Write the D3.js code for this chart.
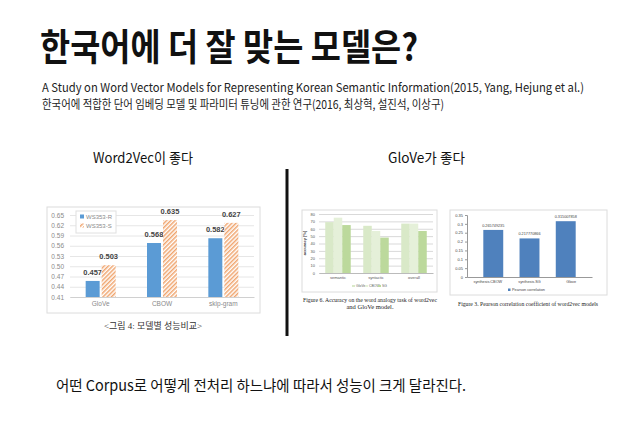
<!DOCTYPE html>
<html>
<head>
<meta charset="utf-8">
<script src="https://cdn.jsdelivr.net/npm/d3@7"></script>
<style>
  body { margin: 0; background: #fff; }
  svg { display: block; }
</style>
</head>
<body>
<script>
// slide text
var titleText = '한국어에 더 잘 맞는 모델은?';
var refLines = [
  'A Study on Word Vector Models for Representing Korean Semantic Information(2015, Yang, Hejung et al.)',
  '한국어에 적합한 단어 임베딩 모델 및 파라미터 튜닝에 관한 연구(2016, 최상혁, 설진석, 이상구)'
];
var headLeft = 'Word2Vec이 좋다';
var headRight = 'GloVe가 좋다';
var footText = '어떤 Corpus로 어떻게 전처리 하느냐에 따라서 성능이 크게 달라진다.';

// left chart: WS353 correlation per model
var modelCats = ['GloVe', 'CBOW', 'skip-gram'];
var wsSeries = ['WS353-R', 'WS353-S'];
var wsR = [0.457, 0.568, 0.582];
var wsS = [0.503, 0.635, 0.627];
var wsTicks = [0.41, 0.44, 0.47, 0.50, 0.53, 0.56, 0.59, 0.62, 0.65];

// middle chart: word analogy accuracy
var taskCats = ['semantic', 'syntactic', 'overall'];
var anaSeries = ['GloVe', 'CBOW', 'SG'];
var anaGlove = [69, 64, 67];
var anaCbow = [75, 57, 67];
var anaSg = [65, 48, 57];
var anaTicks = [0, 10, 20, 30, 40, 50, 60, 70, 80];

// right chart: pearson correlation
var pearCats = ['synthesis.CBOW', 'synthesis.SG', 'Glove'];
var pearVals = [0.265749235, 0.217770866, 0.315007858];
var pearTicks = [0, 0.05, 0.1, 0.15, 0.2, 0.25, 0.3, 0.35];

var W = 638, H = 442;
var kr = '"Noto Sans CJK KR", "Noto Sans", sans-serif';
var serif = '"Liberation Serif", "DejaVu Serif", "Noto Sans CJK KR", serif';
var sans = '"Liberation Sans", Arial, sans-serif';

var svg = d3.select('body').append('svg').attr('width', W).attr('height', H);

// title + references
svg.append('text').attr('x', 40).attr('y', 61)
  .attr('font-family', kr).attr('font-weight', 700).attr('font-size', 37)
  .attr('textLength', 378).attr('lengthAdjust', 'spacingAndGlyphs')
  .attr('fill', '#111').text(titleText);

svg.selectAll('.ref').data(refLines).enter().append('text')
  .attr('class', 'ref')
  .attr('x', 42).attr('y', function(d, i) { return 92 + i * 17; })
  .attr('font-family', kr).attr('font-size', 12)
  .attr('textLength', function(d, i) { return i == 0 ? 542 : 402; })
  .attr('lengthAdjust', 'spacingAndGlyphs')
  .attr('fill', '#222').text(function(d) { return d; });

svg.append('text').attr('x', 93).attr('y', 163)
  .attr('font-family', kr).attr('font-size', 14)
  .attr('textLength', 100).attr('lengthAdjust', 'spacingAndGlyphs')
  .attr('fill', '#111').text(headLeft);
svg.append('text').attr('x', 388).attr('y', 163)
  .attr('font-family', kr).attr('font-size', 14)
  .attr('textLength', 77).attr('lengthAdjust', 'spacingAndGlyphs')
  .attr('fill', '#111').text(headRight);

// divider
svg.append('line').attr('x1', 287).attr('x2', 287).attr('y1', 169).attr('y2', 336)
  .attr('stroke', '#111').attr('stroke-width', 3);

svg.append('text').attr('x', 56).attr('y', 391)
  .attr('font-family', kr).attr('font-size', 15)
  .attr('textLength', 410).attr('lengthAdjust', 'spacingAndGlyphs')
  .attr('fill', '#111').text(footText);

// hatch pattern for WS353-S
var defs = svg.append('defs');
var pat = defs.append('pattern').attr('id', 'hatch')
  .attr('patternUnits', 'userSpaceOnUse').attr('width', 3).attr('height', 3)
  .attr('patternTransform', 'rotate(45)');
pat.append('rect').attr('width', 3).attr('height', 3).attr('fill', '#fff');
pat.append('rect').attr('width', 1.5).attr('height', 3).attr('fill', '#f0a56f');

// ---------- left chart ----------
var g1 = svg.append('g');
g1.append('rect').attr('x', 47).attr('y', 207).attr('width', 213).attr('height', 106)
  .attr('fill', '#fff').attr('stroke', '#dcdcdc');

var x1 = d3.scaleBand().domain(modelCats).range([70, 254]);
var y1 = d3.scaleLinear().domain([0.41, 0.65]).range([297, 215]);

g1.append('g').attr('transform', 'translate(70,0)')
  .call(d3.axisLeft(y1).tickValues(wsTicks).tickSize(-184).tickFormat(d3.format('.2f')))
  .call(function(g) {
    g.select('.domain').remove();
    g.selectAll('.tick line').attr('stroke', '#e6e6e6');
    g.selectAll('.tick text').attr('x', -6).attr('fill', '#8a8a8a')
      .attr('font-family', sans).attr('font-size', 6.5);
  });

g1.append('g').attr('transform', 'translate(0,297)')
  .call(d3.axisBottom(x1).tickSize(0))
  .call(function(g) {
    g.select('.domain').attr('stroke', '#d0d0d0');
    g.selectAll('.tick text').attr('dy', 6).attr('fill', '#8a8a8a')
      .attr('font-family', sans).attr('font-size', 6.5);
  });

var wsData = [wsR, wsS];
wsData.forEach(function(vals, s) {
  g1.selectAll('.ws' + s).data(vals).enter().append('rect')
    .attr('class', 'ws' + s)
    .attr('x', function(d, i) { return x1(modelCats[i]) + x1.bandwidth() / 2 - 15 + s * 16; })
    .attr('y', function(d) { return y1(d); })
    .attr('width', 14)
    .attr('height', function(d) { return y1(0.41) - y1(d); })
    .attr('fill', s == 0 ? '#5b9bd5' : 'url(#hatch)');
  g1.selectAll('.wsl' + s).data(vals).enter().append('text')
    .attr('class', 'wsl' + s)
    .attr('x', function(d, i) { return x1(modelCats[i]) + x1.bandwidth() / 2 - 8 + s * 16; })
    .attr('y', function(d) { return y1(d) - 6; })
    .attr('text-anchor', 'middle').attr('font-family', sans).attr('font-weight', 700)
    .attr('font-size', 7.5).attr('fill', '#444')
    .text(function(d) { return d3.format('.3f')(d); });
});

var lg1 = g1.append('g');
lg1.append('rect').attr('x', 76).attr('y', 211).attr('width', 40).attr('height', 22)
  .attr('fill', '#fff').attr('stroke', '#e0e0e0');
wsSeries.forEach(function(name, i) {
  lg1.append('rect').attr('x', 80).attr('y', 214.5 + i * 9).attr('width', 4).attr('height', 4)
    .attr('fill', i == 0 ? '#5b9bd5' : 'url(#hatch)');
  lg1.append('text').attr('x', 86).attr('y', 218.5 + i * 9)
    .attr('font-family', sans).attr('font-size', 6).attr('fill', '#8a8a8a').text(name);
});

g1.append('text').attr('x', 153).attr('y', 329).attr('text-anchor', 'middle')
  .attr('font-family', serif).attr('font-size', 9).attr('fill', '#333')
  .attr('textLength', 98).attr('lengthAdjust', 'spacingAndGlyphs')
  .text('<그림 4: 모델별 성능비교>');

// ---------- middle chart ----------
var g2 = svg.append('g');
g2.append('rect').attr('x', 302).attr('y', 210).attr('width', 135).attr('height', 82)
  .attr('fill', '#fff').attr('stroke', '#dcdcdc');

var x2 = d3.scaleBand().domain(taskCats).range([319, 433]);
var y2 = d3.scaleLinear().domain([0, 80]).range([273, 214]);

g2.append('g').attr('transform', 'translate(319,0)')
  .call(d3.axisLeft(y2).tickValues(anaTicks).tickSize(-114))
  .call(function(g) {
    g.select('.domain').remove();
    g.selectAll('.tick line').attr('stroke', '#d9d9d9');
    g.selectAll('.tick text').attr('x', -4).attr('fill', '#555')
      .attr('font-family', sans).attr('font-size', 4);
  });
g2.append('g').attr('transform', 'translate(0,273)')
  .call(d3.axisBottom(x2).tickSize(0))
  .call(function(g) {
    g.select('.domain').attr('stroke', '#bbb');
    g.selectAll('.tick text').attr('dy', 3).attr('fill', '#555')
      .attr('font-family', sans).attr('font-size', 4);
  });

var anaColors = ['#d9e9c8', '#e5f0d9', '#bcd99c'];
var anaData = [anaGlove, anaCbow, anaSg];
anaData.forEach(function(vals, s) {
  g2.selectAll('.an' + s).data(vals).enter().append('rect')
    .attr('class', 'an' + s)
    .attr('x', function(d, i) { return x2(taskCats[i]) + x2.bandwidth() / 2 - 12.75 + s * 8.5; })
    .attr('y', function(d) { return y2(d); })
    .attr('width', 8.5)
    .attr('height', function(d) { return y2(0) - y2(d); })
    .attr('fill', anaColors[s]);
});

g2.append('text').attr('transform', 'translate(306,243) rotate(-90)')
  .attr('text-anchor', 'middle').attr('font-family', sans).attr('font-weight', 700)
  .attr('font-size', 4).attr('fill', '#444').text('accuracy [%]');

anaSeries.forEach(function(name, i) {
  var lx = 352 + i * 13;
  g2.append('rect').attr('x', lx).attr('y', 285).attr('width', 3).attr('height', 2)
    .attr('fill', anaColors[i]);
  g2.append('text').attr('x', lx + 4).attr('y', 287.3)
    .attr('font-family', sans).attr('font-size', 3.5).attr('fill', '#666').text(name);
});

g2.append('text').attr('x', 370).attr('y', 302).attr('text-anchor', 'middle')
  .attr('font-family', serif).attr('font-size', 6.5).attr('fill', '#222')
  .attr('textLength', 134).attr('lengthAdjust', 'spacingAndGlyphs')
  .text('Figure 6. Accuracy on the word analogy task of word2vec');
g2.append('text').attr('x', 370).attr('y', 309).attr('text-anchor', 'middle')
  .attr('font-family', serif).attr('font-size', 6.5).attr('fill', '#222')
  .text('and GloVe model.');

// ---------- right chart ----------
var g3 = svg.append('g');
g3.append('rect').attr('x', 450).attr('y', 210).attr('width', 157).attr('height', 85)
  .attr('fill', '#fff').attr('stroke', '#dcdcdc');

var x3 = d3.scaleBand().domain(pearCats).range([467, 592]).padding(0.45);
var y3 = d3.scaleLinear().domain([0, 0.35]).range([277, 215]);

g3.append('g').attr('transform', 'translate(467,0)')
  .call(d3.axisLeft(y3).tickValues(pearTicks).tickSize(2).tickFormat(d3.format('')))
  .call(function(g) {
    g.select('.domain').attr('stroke', '#999');
    g.selectAll('.tick line').attr('stroke', '#999');
    g.selectAll('.tick text').attr('x', -4).attr('fill', '#444')
      .attr('font-family', sans).attr('font-size', 4);
  });
g3.append('g').attr('transform', 'translate(0,277)')
  .call(d3.axisBottom(d3.scaleBand().domain(pearCats).range([467, 592])).tickSize(0))
  .call(function(g) {
    g.select('.domain').attr('stroke', '#999');
    g.selectAll('.tick text').attr('dy', 3).attr('fill', '#444')
      .attr('font-family', sans).attr('font-size', 3.8);
  });

g3.selectAll('.pb').data(pearVals).enter().append('rect')
  .attr('class', 'pb')
  .attr('x', function(d, i) { return x3(pearCats[i]); })
  .attr('y', function(d) { return y3(d); })
  .attr('width', x3.bandwidth())
  .attr('height', function(d) { return y3(0) - y3(d); })
  .attr('fill', '#4f81bd');
g3.selectAll('.pl').data(pearVals).enter().append('text')
  .attr('class', 'pl')
  .attr('x', function(d, i) { return x3(pearCats[i]) + x3.bandwidth() / 2; })
  .attr('y', function(d) { return y3(d) - 3; })
  .attr('text-anchor', 'middle').attr('font-family', sans).attr('font-size', 3.8)
  .attr('fill', '#444').text(function(d) { return d; });

g3.append('rect').attr('x', 508).attr('y', 288.5).attr('width', 2.5).attr('height', 2.5)
  .attr('fill', '#4f81bd');
g3.append('text').attr('x', 512).attr('y', 291)
  .attr('font-family', sans).attr('font-size', 3.8).attr('fill', '#444').text('Pearson correlation');

g3.append('text').attr('x', 528).attr('y', 306).attr('text-anchor', 'middle')
  .attr('font-family', serif).attr('font-size', 6.5).attr('fill', '#222')
  .attr('textLength', 140).attr('lengthAdjust', 'spacingAndGlyphs')
  .text('Figure 3. Pearson correlation coefficient of word2vec models');
</script>
</body>
</html>
